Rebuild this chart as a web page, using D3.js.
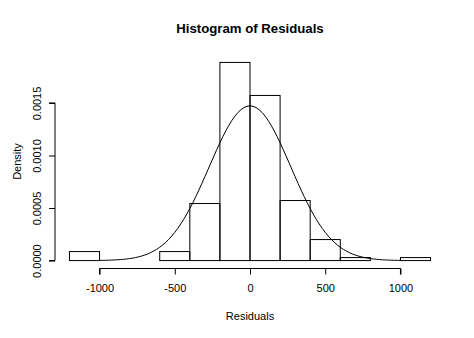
<!DOCTYPE html>
<html>
<head>
<meta charset="utf-8">
<script src="https://cdn.jsdelivr.net/npm/d3@7"></script>
<style>
  html, body { margin: 0; padding: 0; background: #fff; }
  svg { display: block; font-family: "Liberation Sans", Arial, Helvetica, sans-serif; }
</style>
</head>
<body>
<svg id="chart" width="474" height="338"></svg>
<script>
// Histogram bins (width 200) and the count of residuals in each
const binEdges = [-1200, -1000, -800, -600, -400, -200, 0, 200, 400, 600, 800, 1000, 1200];
const binCounts = [3, 0, 0, 3, 19, 66, 55, 20, 7, 1, 0, 1];

// Normal curve laid over the histogram
const curveMean = 0;
const curveSd = 271;
const curveFrom = -1000;
const curveTo = 1000;

// Axis ticks
const xTicks = [-1000, -500, 0, 500, 1000];
const xTickLabels = ["-1000", "-500", "0", "500", "1000"];
const yTicks = [0, 0.0005, 0.0010, 0.0015];
const yTickLabels = ["0.0000", "0.0005", "0.0010", "0.0015"];

const titleText = "Histogram of Residuals";
const xTitle = "Residuals";
const yTitle = "Density";

// ---- derived values ----
const total = d3.sum(binCounts);
const bins = binCounts.map((c, i) => ({
  x0: binEdges[i],
  x1: binEdges[i + 1],
  density: c / (total * (binEdges[i + 1] - binEdges[i]))
}));

const dnorm = (x, m, s) => Math.exp(-0.5 * ((x - m) / s) ** 2) / (s * Math.sqrt(2 * Math.PI));

// plot region, axis ranges padded by 4% on each side
const plot = { left: 55, right: 445, top: 54.5, bottom: 268.5 };
const xLo = binEdges[0], xHi = binEdges[binEdges.length - 1];
const xPad = 0.04 * (xHi - xLo);
const yMax = d3.max(bins, d => d.density);
const yPad = 0.04 * yMax;

const x = d3.scaleLinear().domain([xLo - xPad, xHi + xPad]).range([plot.left, plot.right]);
const y = d3.scaleLinear().domain([-yPad, yMax + yPad]).range([plot.bottom, plot.top]);

const svg = d3.select("#chart");

// bars
svg.append("g")
  .selectAll("rect")
  .data(bins)
  .join("rect")
  .attr("x", d => x(d.x0))
  .attr("y", d => y(d.density))
  .attr("width", d => x(d.x1) - x(d.x0))
  .attr("height", d => y(0) - y(d.density))
  .attr("fill", "none")
  .attr("stroke", "#000")
  .attr("stroke-width", 1);

// fitted normal density
const curvePts = d3.range(0, 101).map(i => {
  const v = curveFrom + (curveTo - curveFrom) * i / 100;
  return [v, dnorm(v, curveMean, curveSd)];
});
svg.append("path")
  .datum(curvePts)
  .attr("fill", "none")
  .attr("stroke", "#000")
  .attr("stroke-width", 1)
  .attr("d", d3.line().x(d => x(d[0])).y(d => y(d[1])).curve(d3.curveLinear));

// x axis along the bottom of the plot region
const xAxis = svg.append("g")
  .attr("transform", `translate(0,${plot.bottom})`)
  .call(d3.axisBottom(x).tickValues(xTicks).tickSize(6).tickPadding(10)
    .tickFormat((d, i) => xTickLabels[i]));
xAxis.select(".domain").attr("d", `M${x(xTicks[0])},6V0H${x(xTicks[xTicks.length - 1])}V6`);

// y axis along the left of the plot region
const yAxis = svg.append("g")
  .attr("transform", `translate(${plot.left},0)`)
  .call(d3.axisLeft(y).tickValues(yTicks).tickSize(6).tickPadding(0)
    .tickFormat((d, i) => yTickLabels[i]));
yAxis.select(".domain").attr("d", `M-6,${y(yTicks[0])}H0V${y(yTicks[yTicks.length - 1])}H-6`);
yAxis.selectAll(".tick text")
  .attr("x", null).attr("dy", null)
  .attr("text-anchor", "middle")
  .attr("transform", "translate(-14,0) rotate(-90)");

svg.selectAll(".tick text").attr("font-size", 11).attr("fill", "#000")
  .attr("font-family", '"Liberation Sans", Arial, sans-serif');
svg.selectAll(".domain, .tick line").attr("stroke", "#000");

// titles
svg.append("text")
  .attr("x", (plot.left + plot.right) / 2).attr("y", 32.5)
  .attr("text-anchor", "middle").attr("font-weight", "bold").attr("font-size", 13.2)
  .text(titleText);

svg.append("text")
  .attr("x", (plot.left + plot.right) / 2).attr("y", 320)
  .attr("text-anchor", "middle").attr("font-size", 11)
  .text(xTitle);

svg.append("text")
  .attr("transform", `translate(21,${(plot.top + plot.bottom) / 2}) rotate(-90)`)
  .attr("text-anchor", "middle").attr("font-size", 11)
  .text(yTitle);
</script>
</body>
</html>
